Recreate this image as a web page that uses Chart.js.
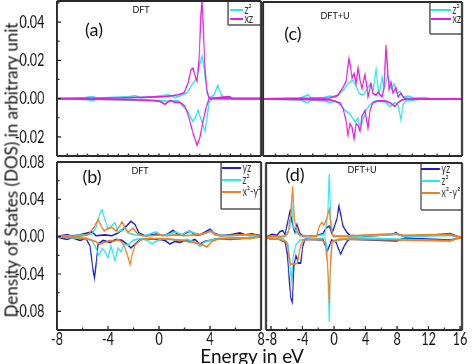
<!DOCTYPE html>
<html><head><meta charset="utf-8">
<script src="https://cdn.jsdelivr.net/npm/chart.js@4/dist/chart.umd.min.js"></script>
<style>
html,body{margin:0;padding:0;background:#fff;overflow:hidden}
#wrap{position:relative;width:474px;height:364px;overflow:hidden;font-family:Lato,"Open Sans",sans-serif}
canvas{position:absolute;left:0;top:0;transform-origin:0 0}
.t{position:absolute;white-space:nowrap;color:#111;line-height:1;transform:translate(-50%,-50%)}
</style></head><body>
<div id="wrap">
<canvas id="ca"></canvas>
<canvas id="cc"></canvas>
<canvas id="cb"></canvas>
<canvas id="cd"></canvas>
<div class="t" style="left:94px;top:29px;font-size:18px">(a)</div>
<div class="t" style="left:141px;top:9px;font-size:9px">DFT</div>
<div class="t" style="left:92px;top:176px;font-size:18px">(b)</div>
<div class="t" style="left:140px;top:170px;font-size:9px">DFT</div>
<div class="t" style="left:293px;top:33px;font-size:18px">(c)</div>
<div class="t" style="left:335px;top:15px;font-size:9px">DFT+U</div>
<div class="t" style="left:295px;top:174px;font-size:18px">(d)</div>
<div class="t" style="left:362px;top:169px;font-size:9px">DFT+U</div>
<div class="t" style="left:11px;top:170px;font-size:17px;transform:translate(-50%,-50%) rotate(-90deg)">Density of States (DOS) in arbitrary unit</div>
<div class="t" style="left:252px;top:355px;font-size:19px">Energy in eV</div>
</div>
<script>
// ---------------- data (Energy in eV, DOS) ----------------
// panel (a) DFT
const a_z2_up = [[-10,0],[-7.25,0.0005],[-6.57,0.001],[-5.98,0.0003],[-2.84,0.001],[-2.35,0.0015],[-1.86,0.0005],[-0.39,0.001],[0.88,0.002],[1.57,0.0005],[2.35,0.002],[2.75,0.003],[3.33,0.008],[3.73,0.011],[3.92,0.016],[4.22,0.0225],[4.41,0.016],[4.71,0.003],[5.0,0.0005],[5.39,0.002],[5.78,0.007],[6.08,0.002],[6.47,0.0005],[6.96,0.001],[7.25,0],[10,0]];
const a_xz_up = [[-10,0],[-3.8,0.0003],[-0.9,0.0008],[0.6,0.001],[1.27,0.0015],[1.86,0.002],[2.45,0.003],[2.84,0.008],[3.14,0.015],[3.33,0.016],[3.53,0.012],[3.73,0.009],[3.92,0.02],[4.12,0.045],[4.22,0.052],[4.31,0.04],[4.51,0.015],[4.71,0.004],[4.9,0],[6.86,0.001],[7.16,0],[10,0]];
const a_z2_dn = [[-10,0],[-6.96,-0.0005],[-6.57,-0.0012],[-6.08,-0.0003],[-2.35,-0.001],[-1.67,-0.0005],[0.1,-0.001],[1.08,-0.0015],[1.86,-0.001],[2.35,-0.004],[2.84,-0.007],[3.33,-0.012],[3.63,-0.009],[3.82,-0.006],[4.12,-0.011],[4.51,-0.017],[4.71,-0.01],[4.9,-0.002],[5.2,0],[10,0]];
const a_xz_dn = [[-10,0],[-2.84,-0.0005],[-0.88,-0.001],[0.1,-0.0015],[0.59,-0.003],[1.08,-0.001],[1.57,-0.002],[2.06,-0.002],[2.55,-0.004],[2.94,-0.01],[3.33,-0.018],[3.73,-0.0245],[4.02,-0.02],[4.31,-0.012],[4.61,-0.005],[4.9,0],[10,0]];
// panel (c) DFT+U
const c_z2_up = [[-8,0],[-5.02,0.0005],[-4.62,0.0015],[-4.38,0.0022],[-4.14,0.0005],[-3.26,0.0005],[-2.61,0.0015],[-2.13,0.001],[-1.81,0.003],[-1.49,0.005],[-1.17,0.008],[-0.76,0.0098],[-0.52,0.007],[-0.28,0.003],[0.04,0.002],[0.28,0.004],[0.6,0.008],[0.84,0.004],[1.09,0.0155],[1.25,0.006],[1.33,0.002],[1.57,0.0115],[1.73,0.005],[2.05,0.013],[2.29,0.005],[2.53,0.008],[2.77,0.003],[3.01,0.004],[3.26,0.001],[3.66,0.0015],[4.14,0.0005],[5.02,0.0007],[5.5,0],[8,0]];
const c_xz_up = [[-8,0],[-5.02,0.0003],[-2.61,0.0005],[-1.97,0.002],[-1.57,0.006],[-1.33,0.009],[-1.09,0.0215],[-0.92,0.015],[-0.84,0.011],[-0.68,0.0135],[-0.52,0.008],[-0.36,0.0165],[-0.2,0.01],[-0.04,0.0055],[0.2,0.013],[0.36,0.006],[0.44,0.001],[0.68,0.008],[0.84,0.003],[1.09,0.002],[1.25,0.0035],[1.57,0.001],[1.73,0.006],[1.89,0.0285],[2.05,0.012],[2.13,0.005],[2.29,0.009],[2.45,0.003],[2.69,0.006],[2.85,0.001],[3.09,0.003],[3.34,0.0005],[3.8,0],[8,0]];
const c_z2_dn = [[-8,0],[-5.02,-0.0005],[-4.62,-0.0015],[-4.38,-0.002],[-4.14,-0.0005],[-3.01,-0.001],[-2.61,-0.002],[-2.21,-0.001],[-1.81,-0.003],[-1.41,-0.006],[-1.0,-0.008],[-0.6,-0.012],[-0.36,-0.01],[-0.2,-0.016],[0.04,-0.011],[0.28,-0.006],[0.6,-0.003],[1.0,-0.001],[1.81,-0.0015],[2.21,-0.004],[2.61,-0.002],[2.85,-0.003],[3.09,-0.011],[3.26,-0.003],[3.5,-0.001],[4.22,-0.0005],[4.8,0],[8,0]];
const c_xz_dn = [[-8,0],[-2.61,-0.0005],[-1.81,-0.002],[-1.57,-0.005],[-1.33,-0.011],[-1.17,-0.019],[-1.0,-0.013],[-0.84,-0.015],[-0.68,-0.021],[-0.52,-0.013],[-0.36,-0.014],[-0.2,-0.017],[-0.04,-0.009],[0.2,-0.006],[0.44,-0.0155],[0.6,-0.006],[0.84,-0.002],[1.25,-0.001],[1.81,-0.001],[2.21,-0.002],[2.61,-0.004],[2.85,-0.002],[3.18,-0.0005],[3.6,0],[8,0]];
// panel (b) DFT
const b_yz_up = [[-8,0],[-7.76,0.001],[-7.2,0.002],[-6.8,0.0005],[-6.2,0.002],[-5.57,0.004],[-5.25,0.005],[-4.94,0.001],[-4.24,0.002],[-3.69,0.001],[-3.22,0.004],[-2.82,0.008],[-2.51,0.012],[-2.2,0.0165],[-1.88,0.013],[-1.57,0.004],[-1.1,0.001],[-0.55,0.002],[-0.08,0.003],[0.31,0.001],[0.71,0.003],[1.1,0.007],[1.41,0.003],[1.8,0.002],[2.12,0.004],[2.43,0.006],[2.82,0.002],[3.22,0.002],[3.61,0.005],[4.0,0.008],[4.31,0.004],[4.78,0.001],[5.57,0.002],[6.35,0.004],[6.75,0.002],[7.29,0.003],[8,0.001]];
const b_z2_up = [[-8,0],[-6.98,0.001],[-5.8,0.002],[-5.25,0.003],[-4.94,0.01],[-4.63,0.025],[-4.47,0.029],[-4.24,0.018],[-4.0,0.008],[-3.69,0.012],[-3.45,0.015],[-3.22,0.005],[-2.98,0.007],[-2.75,0.01],[-2.43,0.004],[-1.88,0.002],[-1.1,0.001],[-0.71,0.003],[-0.24,0.005],[0.24,0.001],[0.86,0.003],[1.33,0.005],[1.8,0.002],[2.27,0.006],[2.75,0.004],[3.22,0.002],[3.76,0.004],[4.08,0.006],[4.47,0.002],[5.57,0.001],[6.75,0.002],[8,0]];
const b_x2y2_up = [[-8,0],[-6.98,0.001],[-6.2,0.0005],[-5.57,0.002],[-5.1,0.01],[-4.78,0.0185],[-4.55,0.012],[-4.31,0.006],[-4.0,0.009],[-3.69,0.01],[-3.37,0.006],[-3.06,0.012],[-2.9,0.016],[-2.67,0.01],[-2.43,0.005],[-2.04,0.009],[-1.73,0.004],[-1.33,0.001],[-0.71,0.001],[0.08,0.002],[0.63,0.001],[1.25,0.002],[2.04,0.001],[2.82,0.002],[3.45,0.003],[4.0,0.006],[4.39,0.002],[5.18,0.001],[6.35,0.002],[7.53,0.002],[8,0]];
const b_yz_dn = [[-8,0],[-7.76,-0.001],[-7.22,-0.003],[-6.82,-0.001],[-6.2,-0.004],[-5.73,-0.002],[-5.41,-0.01],[-5.18,-0.035],[-5.06,-0.045],[-4.94,-0.03],[-4.78,-0.008],[-4.39,-0.004],[-3.84,-0.006],[-3.37,-0.003],[-2.9,-0.004],[-2.51,-0.008],[-2.2,-0.012],[-1.88,-0.008],[-1.49,-0.003],[-0.71,-0.002],[0.08,-0.003],[0.47,-0.004],[0.86,-0.008],[1.25,-0.005],[1.65,-0.006],[2.04,-0.004],[2.43,-0.005],[2.82,-0.003],[3.22,-0.008],[3.61,-0.005],[4.0,-0.004],[4.63,-0.002],[5.57,-0.003],[6.35,-0.002],[8,0]];
const b_z2_dn = [[-8,0],[-6.98,-0.001],[-5.8,-0.002],[-5.25,-0.004],[-5.02,-0.01],[-4.71,-0.02],[-4.47,-0.013],[-4.24,-0.016],[-4.0,-0.0225],[-3.76,-0.01],[-3.45,-0.026],[-3.22,-0.012],[-2.98,-0.016],[-2.75,-0.008],[-2.43,-0.009],[-2.04,-0.004],[-1.49,-0.002],[-0.86,-0.004],[-0.55,-0.008],[-0.24,-0.005],[0.24,-0.002],[0.86,-0.003],[1.65,-0.004],[2.2,-0.003],[2.82,-0.006],[3.22,-0.0105],[3.53,-0.006],[4.0,-0.004],[4.78,-0.002],[5.96,-0.002],[8,0]];
const b_x2y2_dn = [[-8,0],[-6.2,-0.001],[-5.65,-0.002],[-5.02,-0.005],[-4.63,-0.008],[-4.24,-0.006],[-3.84,-0.004],[-3.53,-0.005],[-3.22,-0.003],[-2.9,-0.006],[-2.67,-0.012],[-2.43,-0.022],[-2.27,-0.03],[-2.12,-0.02],[-1.88,-0.009],[-1.49,-0.004],[-1.1,-0.002],[0.08,-0.002],[1.02,-0.003],[1.8,-0.004],[2.43,-0.006],[3.06,-0.007],[3.45,-0.009],[3.76,-0.011],[4.16,-0.005],[4.78,-0.002],[5.96,-0.001],[7.14,-0.002],[8,0]];
// panel (d) DFT+U
const d_yz_up = [[-8.63,0],[-8.38,0.001],[-7.87,0.003],[-7.24,0.002],[-6.86,0.006],[-6.48,0.007],[-6.22,0.003],[-5.84,0.018],[-5.59,0.028],[-5.21,0.012],[-4.95,0.005],[-4.7,0.014],[-4.32,0.004],[-3.94,0.001],[-2.5,0.001],[-1.4,0.004],[-1.0,0.01],[-0.6,0.012],[-0.25,0.004],[0.38,0.02],[0.63,0.034],[1.14,0.012],[1.65,0.005],[2.03,0.002],[3.5,0.001],[7.49,0.003],[7.87,0.005],[8.13,0.003],[9,0.001],[12.19,0.002],[14.73,0.004],[15.62,0.001],[16.25,0]];
const d_z2_up = [[-8.63,0],[-8,0.001],[-7,0.0005],[-6.2,0.001],[-5.59,0.01],[-5.37,0.036],[-5.17,0.012],[-4.74,0.005],[-4.32,0.002],[-3,0.0005],[-1.14,0.003],[-0.8,0.025],[-0.6,0.068],[-0.42,0.02],[-0.17,0.002],[2,0.0005],[7.96,0.003],[9,0.001],[14.73,0.002],[16.25,0]];
const d_x2y2_up = [[-8.63,0],[-8,0.001],[-7,0.001],[-6.2,0.001],[-5.8,0.005],[-5.5,0.025],[-5.24,0.055],[-5.04,0.02],[-4.74,0.008],[-4.32,0.002],[-2.2,0.001],[-1.87,0.012],[-1.56,0.016],[-1.27,0.013],[-0.93,0.02],[-0.6,0.03],[-0.38,0.01],[-0.09,0.001],[0.76,0.001],[7.96,0.004],[8.6,0.002],[14.73,0.003],[15.4,0.001],[16.25,0]];
const d_yz_dn = [[-8.63,0],[-8,-0.002],[-7,-0.002],[-6.22,-0.005],[-5.93,-0.018],[-5.68,-0.045],[-5.5,-0.065],[-5.3,-0.07],[-5.08,-0.03],[-4.83,-0.02],[-4.53,-0.028],[-4.23,-0.028],[-3.97,-0.01],[-3.68,-0.002],[-1.36,-0.003],[-0.85,-0.015],[-0.3,-0.003],[0.25,-0.005],[0.55,-0.012],[0.85,-0.018],[1.27,-0.01],[1.69,-0.004],[2.03,-0.002],[7.96,-0.004],[9,-0.001],[14.73,-0.003],[16.25,0]];
const d_z2_dn = [[-8.63,0],[-8,-0.001],[-6.5,-0.001],[-5.8,-0.008],[-5.59,-0.03],[-5.37,-0.046],[-5.17,-0.02],[-4.83,-0.008],[-4.32,-0.003],[-1.14,-0.001],[-0.93,-0.01],[-0.72,-0.05],[-0.6,-0.091],[-0.47,-0.04],[-0.25,-0.005],[2,-0.0005],[7.96,-0.002],[14.73,-0.004],[15.4,-0.002],[16.25,0]];
const d_x2y2_dn = [[-8.63,0],[-8,-0.002],[-7,-0.002],[-6.0,-0.005],[-5.71,-0.02],[-5.5,-0.029],[-4.95,-0.029],[-4.66,-0.028],[-4.32,-0.012],[-3.97,-0.003],[-1.78,-0.002],[-1.14,-0.006],[-0.8,-0.03],[-0.6,-0.071],[-0.42,-0.02],[-0.17,-0.004],[0.76,-0.002],[7.96,-0.003],[14.73,-0.004],[16.25,0]];
// tick labels
const yTicksTop = [-0.02, 0.00, 0.02, 0.04];
const yTicksBottom = [-0.08, -0.04, 0.00, 0.04, 0.08];
const xTicksB = [-8, -4, 0, 4, 8];
const xTicksD = [-8, -4, 0, 4, 8, 12, 16];
const orbitalNames = {z2:'z\u00B2', xz:'xz', yz:'yz', x2y2:'x\u00B2-y\u00B2'};

// ---------------- drawing ----------------
const FONT = 'Lato, "Open Sans", sans-serif';
const COL = {z2:'#2ce6ef', xz:'#e11fdf', yz:'#1d1dc4', x2y2:'#f2801f'};
const S = 0.7;             // horizontal compression of the chart canvases (narrow tick font look)
const W = Math.round(474 / S), H = 364;

function series(key, pts, isUp, order){
  return {label: orbitalNames[key], data: pts.map(p=>({x:p[0], y:p[1]})), borderColor: COL[key],
    backgroundColor: COL[key], borderWidth: 1.7, pointRadius: 0, tension: 0, fill: false,
    order: order, inLegend: isUp};
}
function axis(dir, min, max, ticks, show, size){
  return {type:'linear', min:min, max:max,
    grid:{display:false}, border:{display:false},
    ticks:{display:show, autoSkip:false, maxRotation:0, includeBounds:false,
      font:{family:FONT, size:18}, color:'#111', padding: dir==='x' ? -10 : 10,
      callback: v => dir==='y' ? Number(v).toFixed(2) : String(v)},
    afterBuildTicks: s => { s.ticks = ticks.map(v=>({value:v})); },
    afterFit: s => { if(dir==='x') s.height = size; else s.width = size;
      s.paddingTop = 0; s.paddingBottom = 0; s.paddingLeft = 0; s.paddingRight = 0; }
  };
}
function range(a, b, step){ const r=[]; for(let v=a; v<=b+1e-9; v+=step) r.push(+v.toFixed(6)); return r; }

function decoPlugin(cfg){
  return {id:'deco', afterDraw(chart){
    const ctx = chart.ctx, a = chart.chartArea, xs = chart.scales.x, ys = chart.scales.y;
    ctx.save();
    ctx.strokeStyle = '#222';
    ctx.lineWidth = 1.2 / S; ctx.beginPath();
    (cfg.xMajor||[]).forEach(v=>{const p=xs.getPixelForValue(v); ctx.moveTo(p,a.bottom); ctx.lineTo(p,a.bottom-4);});
    (cfg.xMinor||[]).forEach(v=>{const p=xs.getPixelForValue(v); ctx.moveTo(p,a.bottom); ctx.lineTo(p,a.bottom-2.5);});
    ctx.stroke();
    ctx.lineWidth = 1.2; ctx.beginPath();
    (cfg.yMajor||[]).forEach(v=>{const p=ys.getPixelForValue(v); ctx.moveTo(a.left,p); ctx.lineTo(a.left+4/S,p);});
    (cfg.yMinor||[]).forEach(v=>{const p=ys.getPixelForValue(v); ctx.moveTo(a.left,p); ctx.lineTo(a.left+2.5/S,p);});
    ctx.stroke();
    const L = cfg.legend;
    if (L) {
      const items = chart.data.datasets.filter(d=>d.inLegend);
      const lx = L.x / S, lw = L.w / S;
      ctx.fillStyle = '#fff';
      ctx.fillRect(lx, L.y, lw, L.h);
      ctx.strokeStyle = '#555';
      ctx.lineWidth = 1.5; ctx.beginPath();
      ctx.moveTo(lx, L.y); ctx.lineTo(lx+lw, L.y); ctx.moveTo(lx, L.y+L.h); ctx.lineTo(lx+lw, L.y+L.h); ctx.stroke();
      ctx.lineWidth = 1.5 / S; ctx.beginPath();
      ctx.moveTo(lx, L.y); ctx.lineTo(lx, L.y+L.h); ctx.stroke();
      ctx.font = '13px ' + FONT; ctx.textBaseline = 'middle'; ctx.textAlign = 'left';
      items.forEach((d,i)=>{
        const yy = L.rows[i];
        ctx.strokeStyle = d.borderColor; ctx.lineWidth = 2;
        ctx.beginPath(); ctx.moveTo(L.x1 / S, yy); ctx.lineTo(L.x2 / S, yy); ctx.stroke();
        ctx.fillStyle = '#333'; ctx.fillText(d.label, L.x2 / S + 2, yy);
      });
    }
    // frame
    ctx.strokeStyle = '#2a2a2a';
    ctx.lineWidth = 2; ctx.beginPath();
    ctx.moveTo(a.left, a.top); ctx.lineTo(a.right, a.top); ctx.moveTo(a.left, a.bottom); ctx.lineTo(a.right, a.bottom);
    ctx.stroke();
    ctx.lineWidth = 2 / S; ctx.beginPath();
    ctx.moveTo(a.left, a.top); ctx.lineTo(a.left, a.bottom); ctx.moveTo(a.right, a.top); ctx.lineTo(a.right, a.bottom);
    ctx.stroke();
    ctx.restore();
  }};
}

function make(id, box, datasets, xMin, xMax, yMin, yMax, xTicks, yTicks, showX, showY, deco){
  const cv = document.getElementById(id);
  cv.width = W; cv.height = H;
  cv.style.transform = 'scaleX(' + S + ')';
  return new Chart(cv, {
    type:'line',
    data:{datasets: datasets},
    options:{responsive:false, animation:false, events:[], devicePixelRatio:1,
      layout:{autoPadding:false, padding:{left:0, top:box.t, right:W - box.r / S, bottom:0}},
      plugins:{legend:{display:false}, tooltip:{enabled:false}},
      scales:{x: axis('x', xMin, xMax, xTicks, showX, H - box.b), y: axis('y', yMin, yMax, yTicks, showY, box.l / S)}
    },
    plugins:[decoPlugin(deco)]
  });
}

make('ca', {l:57,t:1,r:261,b:156},
  [series('z2', a_z2_up, true, 2), series('xz', a_xz_up, true, 1), series('z2', a_z2_dn, false, 2), series('xz', a_xz_dn, false, 1)],
  -10, 10, -0.03, 0.051, [], yTicksTop, false, true,
  {xMinor: range(-9, 9, 1), yMajor: yTicksTop, yMinor: range(-0.03, 0.05, 0.01),
   legend:{x:228, y:1, w:33, h:24, x1:230, x2:243, rows:[10,19]}});

make('cc', {l:263,t:2,r:462,b:156},
  [series('z2', c_z2_up, true, 2), series('xz', c_xz_up, true, 1), series('z2', c_z2_dn, false, 2), series('xz', c_xz_dn, false, 1)],
  -8, 8, -0.03, 0.051, [], [], false, false,
  {xMinor: range(-7, 7, 1),
   legend:{x:430, y:2, w:32, h:32, x1:431, x2:451, rows:[10,19]}});

make('cb', {l:57,t:162,r:261,b:330},
  [series('yz', b_yz_up, true, 3), series('z2', b_z2_up, true, 2), series('x2y2', b_x2y2_up, true, 1),
   series('yz', b_yz_dn, false, 3), series('z2', b_z2_dn, false, 2), series('x2y2', b_x2y2_dn, false, 1)],
  -8, 8, -0.1, 0.08, xTicksB, yTicksBottom, true, true,
  {xMajor: xTicksB, xMinor: range(-6, 6, 4), yMajor: yTicksBottom, yMinor: range(-0.1, 0.06, 0.04),
   legend:{x:221, y:162, w:40, h:47, x1:222, x2:241, rows:[168,180,192]}});

make('cd', {l:266,t:163,r:462,b:330},
  [series('yz', d_yz_up, true, 3), series('z2', d_z2_up, true, 2), series('x2y2', d_x2y2_up, true, 1),
   series('yz', d_yz_dn, false, 3), series('z2', d_z2_dn, false, 2), series('x2y2', d_x2y2_dn, false, 1)],
  -8.63, 16.25, -0.1, 0.08, xTicksD, [], true, false,
  {xMajor: xTicksD, xMinor: range(-6, 14, 4),
   legend:{x:421, y:163, w:41, h:47, x1:421, x2:440, rows:[169,181,193]}});
</script>
</body></html>
